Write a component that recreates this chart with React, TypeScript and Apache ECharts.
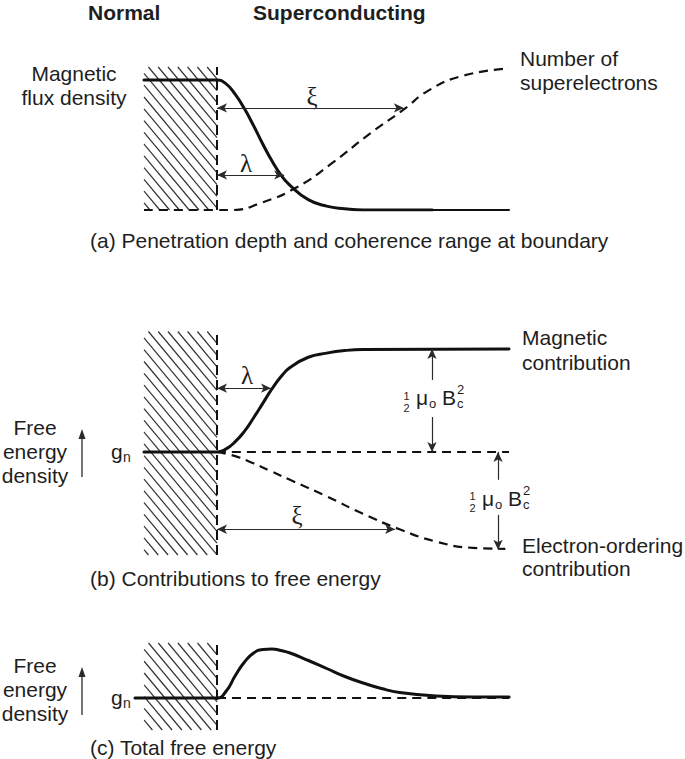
import React, { useEffect, useRef } from "react";
import * as echarts from "echarts";

const FONT = '"Liberation Sans", Arial, Helvetica, sans-serif';
const GREEK = '"Liberation Serif", "DejaVu Serif", serif';
const INK = "#111111";
const TEXT = "#1e1e1e";
const THIN = "#2a2a2a";

// ---------- Panel (a): penetration depth / coherence range ----------
const fluxX = [-2, 0, 0.25, 0.5, 0.75, 1, 1.25, 1.5, 1.75, 2, 2.5, 3, 3.5, 4, 5.9];
const fluxY = [1, 1, 0.97, 0.89, 0.78, 0.65, 0.51, 0.38, 0.27, 0.19, 0.08, 0.03, 0.01, 0, 0];
const baseX = [5.9, 8];
const baseY = [0, 0];
const superX = [-2, 0, 0.4, 1.2, 2.2, 3.15, 4.2, 5.1, 5.8, 6.7, 8];
const superY = [0, 0, 0, 0.054, 0.177, 0.36, 0.59, 0.77, 0.92, 1.03, 1.09];
const aXi = { y: 0.785, end: 5.12 };
const aLambda = { y: 0.27, end: 1.84 };

// ---------- Panel (b): contributions to free energy ----------
const magX = [-2, 0, 0.25, 0.5, 0.75, 1, 1.25, 1.5, 1.75, 2, 2.5, 3, 3.5, 4, 8];
const magY = [0, 0, 0.03, 0.1, 0.2, 0.33, 0.47, 0.61, 0.73, 0.82, 0.92, 0.96, 0.985, 0.995, 1];
const elecX = [0, 0.5, 1, 1.5, 2, 3, 4, 5, 6, 7, 7.9];
const elecY = [0, -0.04, -0.11, -0.19, -0.27, -0.43, -0.6, -0.75, -0.87, -0.93, -0.94];
const gnX = [0, 8];
const gnY = [0, 0];
const bLambda = { y: 0.62, end: 1.48 };
const bXi = { y: -0.75, end: 4.88 };
const bMagArrow = { x: 5.89, top: 1, gapTop: 0.7, gapBottom: 0.34, bottom: 0 };
const bElecArrow = { x: 7.7, top: 0, gapTop: -0.27, gapBottom: -0.61, bottom: -0.95 };

// ---------- Panel (c): total free energy ----------
const totalX = [-2.25, 0, 0.25, 0.5, 0.75, 1, 1.25, 1.5, 1.75, 2, 2.5, 3, 3.5, 4, 4.5, 5, 6, 7, 8];
const totalY = [0, 0, 0.14, 0.45, 0.72, 0.9, 0.97, 0.98, 0.95, 0.9, 0.75, 0.59, 0.43, 0.3, 0.19, 0.11, 0.04, 0.02, 0.02];

// Normal-region (hatched) extent in x, boundary at 0
const hatchX = [-2, 0];
const boundaryX = 0;

// axis ranges for each panel
const rangeA = { xMin: -2, xMax: 8, yMin: 0, yMax: 1.1 };
const rangeB = { xMin: -2, xMax: 8, yMin: -1, yMax: 1.17 };
const rangeC = { xMin: -2.25, xMax: 8, yMin: -0.64, yMax: 1.1 };

const pts = (xs: number[], ys: number[]) => xs.map((x, i) => [x, ys[i]]);

function hatchItem(params: any, api: any) {
  const p0 = api.coord([api.value(0), api.value(3)]);
  const p1 = api.coord([api.value(1), api.value(2)]);
  const L = p0[0], T = p0[1], R = p1[0], B = p1[1];
  const k = 1.2;
  const step = 9.8;
  const H = B - T;
  const children: any[] = [];
  for (let c = R - L; c > -H / k; c -= step) {
    let x1 = L + c, y1 = T;
    if (x1 < L) { y1 = T + (L - x1) * k; x1 = L; }
    let x2 = L + c + H / k, y2 = B;
    if (x2 > R) { y2 = B - (x2 - R) * k; x2 = R; }
    if (y2 > y1 + 0.5) {
      children.push({ type: "line", shape: { x1, y1, x2, y2 }, style: { stroke: "#333", lineWidth: 1.2 } });
    }
  }
  return { type: "group", children };
}

const hatchSeries = (idx: number, r: any) => ({
  type: "custom",
  xAxisIndex: idx,
  yAxisIndex: idx,
  renderItem: hatchItem,
  data: [[hatchX[0], hatchX[1], r.yMin, r.yMax]],
  encode: { x: [0, 1], y: [2, 3] },
  silent: true,
  z: 1,
});

const boundaryLine = {
  xAxis: boundaryX,
  symbol: "none",
  lineStyle: { color: INK, width: 2, type: [10, 5] },
};

const arrowStyle = { color: THIN, width: 1.2, type: "solid" };
const AS = [7, 10];
const hArrow = (y: number, end: number) => [
  { coord: [boundaryX, y], symbol: "arrow", symbolSize: AS, lineStyle: arrowStyle },
  { coord: [end, y], symbol: "arrow", symbolSize: AS },
];
const vHalf = (x: number, from: number, to: number) => [
  { coord: [x, from], symbol: "arrow", symbolSize: AS, lineStyle: arrowStyle },
  { coord: [x, to], symbol: "none" },
];

const marks = (data: any[]) => ({
  silent: true,
  animation: false,
  symbol: ["none", "none"],
  label: { show: false },
  emphasis: { disabled: true },
  data,
});

const solid = (idx: number, xs: number[], ys: number[], width = 3, extra: any = {}) => ({
  type: "line",
  xAxisIndex: idx,
  yAxisIndex: idx,
  data: pts(xs, ys),
  symbol: "none",
  smooth: 0.5,
  silent: true,
  lineStyle: { color: INK, width, cap: "round", join: "round" },
  z: 3,
  ...extra,
});

const dashed = (idx: number, xs: number[], ys: number[], extra: any = {}) => ({
  type: "line",
  xAxisIndex: idx,
  yAxisIndex: idx,
  data: pts(xs, ys),
  symbol: "none",
  smooth: 0.5,
  silent: true,
  lineStyle: { color: INK, width: 2.2, type: [9, 6] },
  z: 3,
  ...extra,
});

const txt = (text: string, x: number, y: number, extra: any = {}) => ({
  type: "text",
  x,
  y,
  silent: true,
  style: {
    text,
    fontFamily: FONT,
    fontSize: 21,
    fill: TEXT,
    align: "left",
    verticalAlign: "middle",
    ...extra,
  },
});

const greek = (text: string, x: number, y: number) =>
  txt(text, x, y, { fontFamily: GREEK, fontSize: 25, align: "center" });

const upArrow = (x: number, y1: number, y2: number) => [
  { type: "line", silent: true, shape: { x1: x, y1, x2: x, y2: y2 + 8 }, style: { stroke: THIN, lineWidth: 1.3 } },
  { type: "polygon", silent: true, shape: { points: [[x, y2], [x - 3.5, y2 + 10], [x + 3.5, y2 + 10]] }, style: { fill: THIN } },
];

const gSub = (x: number, y: number) => [
  txt("g", x, y),
  txt("n", x + 12, y + 6, { fontSize: 14 }),
];

const formula = (x0: number, yc: number) => [
  txt("1", x0 + 3.5, yc - 2, { fontSize: 11, align: "center" }),
  txt("2", x0 + 3.5, yc + 10, { fontSize: 11, align: "center" }),
  txt("μ", x0 + 13, yc, {}),
  txt("o", x0 + 26, yc + 6, { fontSize: 13 }),
  txt("B", x0 + 39, yc, {}),
  txt("2", x0 + 54, yc - 8, { fontSize: 13 }),
  txt("c", x0 + 54, yc + 6, { fontSize: 13 }),
];

const axisPair = (r: any, idx: number) => ({
  x: { type: "value", gridIndex: idx, min: r.xMin, max: r.xMax, show: false },
  y: { type: "value", gridIndex: idx, min: r.yMin, max: r.yMax, show: false },
});

export default function App() {
  const ref = useRef<HTMLDivElement>(null);
  useEffect(() => {
    document.body.style.margin = "0";
    const chart = echarts.init(ref.current!, null, { renderer: "svg" });
    const A = axisPair(rangeA, 0);
    const Bp = axisPair(rangeB, 1);
    const C = axisPair(rangeC, 2);
    const option: any = {
      animation: false,
      backgroundColor: "#ffffff",
      grid: [
        { left: 144, top: 67, width: 365, height: 143 },
        { left: 144, top: 331.5, width: 365, height: 223.5 },
        { left: 135, top: 643, width: 374.1, height: 87 },
      ],
      xAxis: [A.x, Bp.x, C.x],
      yAxis: [A.y, Bp.y, C.y],
      series: [
        // (a)
        hatchSeries(0, rangeA),
        solid(0, fluxX, fluxY, 3, {
          markLine: marks([boundaryLine, hArrow(aXi.y, aXi.end), hArrow(aLambda.y, aLambda.end)]),
        }),
        solid(0, baseX, baseY, 2),
        dashed(0, superX, superY),
        // (b)
        hatchSeries(1, rangeB),
        solid(1, magX, magY, 3, {
          markLine: marks([
            boundaryLine,
            hArrow(bLambda.y, bLambda.end),
            hArrow(bXi.y, bXi.end),
            vHalf(bMagArrow.x, bMagArrow.top, bMagArrow.gapTop),
            vHalf(bMagArrow.x, bMagArrow.bottom, bMagArrow.gapBottom),
            vHalf(bElecArrow.x, bElecArrow.top, bElecArrow.gapTop),
            vHalf(bElecArrow.x, bElecArrow.bottom, bElecArrow.gapBottom),
          ]),
        }),
        dashed(1, gnX, gnY),
        dashed(1, elecX, elecY),
        // (c)
        hatchSeries(2, rangeC),
        solid(2, totalX, totalY, 3, { markLine: marks([boundaryLine]) }),
        dashed(2, gnX, gnY, { z: 2 }),
      ],
      graphic: {
        elements: [
          txt("Normal", 88, 12, { fontWeight: "bold" }),
          txt("Superconducting", 253, 12, { fontWeight: "bold" }),
          txt("Magnetic\nflux density", 74, 85, { align: "center", lineHeight: 24 }),
          txt("Number of\nsuperelectrons", 520, 70, { lineHeight: 24 }),
          greek("ξ", 312, 96),
          greek("λ", 246, 163),
          txt("(a) Penetration depth and coherence range at boundary", 90, 240),

          txt("Magnetic\ncontribution", 522, 349.5, { lineHeight: 25 }),
          txt("Electron-ordering\ncontribution", 522, 556.5, { lineHeight: 23 }),
          txt("Free\nenergy\ndensity", 35, 451, { align: "center", lineHeight: 24 }),
          ...upArrow(82, 477, 429),
          ...gSub(111, 451),
          greek("λ", 247, 375),
          greek("ξ", 297, 515),
          ...formula(403, 397.5),
          ...formula(469, 498),
          txt("(b) Contributions to free energy", 90, 578),

          txt("Free\nenergy\ndensity", 35, 689, { align: "center", lineHeight: 24 }),
          ...upArrow(82, 715, 667),
          ...gSub(111, 697),
          txt("(c) Total free energy", 90, 747),
        ],
      },
    };
    chart.setOption(option);
    return () => chart.dispose();
  }, []);
  return <div ref={ref} style={{ width: 685, height: 759, background: "#fff" }} />;
}
